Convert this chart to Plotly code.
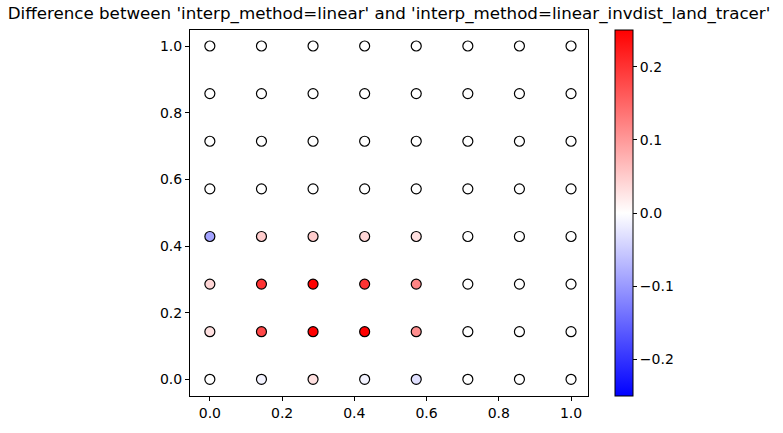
import plotly.graph_objects as go

# grid coordinates (8 x 8)
x_coords = [0, 1/7, 2/7, 3/7, 4/7, 5/7, 6/7, 1]
y_coords = [0, 1/7, 2/7, 3/7, 4/7, 5/7, 6/7, 1]

# difference values, one list per row (bottom row y=0 first)
row_y0 = [0.0, -0.012, 0.03, -0.012, -0.03, 0.0, 0.0, 0.0]
row_y1 = [0.03, 0.18, 0.25, 0.25, 0.11, 0.0, 0.0, 0.0]
row_y2 = [0.04, 0.20, 0.25, 0.20, 0.12, 0.0, 0.0, 0.0]
row_y3 = [-0.09, 0.05, 0.05, 0.04, 0.03, 0.0, 0.0, 0.0]
row_y4 = [0.0] * 8
row_y5 = [0.0] * 8
row_y6 = [0.0] * 8
row_y7 = [0.0] * 8
rows = [row_y0, row_y1, row_y2, row_y3, row_y4, row_y5, row_y6, row_y7]

cbar_ticks = [-0.2, -0.1, 0.0, 0.1, 0.2]
cbar_labels = ["\u22120.2", "\u22120.1", "0.0", "0.1", "0.2"]
axis_ticks = [0.0, 0.2, 0.4, 0.6, 0.8, 1.0]
axis_labels = ["0.0", "0.2", "0.4", "0.6", "0.8", "1.0"]

xs, ys, zs = [], [], []
for j, yv in enumerate(y_coords):
    for i, xv in enumerate(x_coords):
        xs.append(xv)
        ys.append(yv)
        zs.append(rows[j][i])

font = "DejaVu Sans"
fig = go.Figure(go.Scatter(
    x=xs, y=ys, mode="markers",
    marker=dict(
        size=10, color=zs, cmin=-0.25, cmax=0.25,
        colorscale=[[0, "rgb(0,0,255)"], [0.5, "rgb(255,255,255)"], [1, "rgb(255,0,0)"]],
        line=dict(color="black", width=1.2),
        showscale=True,
        colorbar=dict(
            x=1.068, xanchor="left", xref="paper", y=0.5, yanchor="middle",
            len=1, lenmode="fraction", thickness=18, thicknessmode="pixels",
            outlinecolor="black", outlinewidth=1,
            tickvals=cbar_ticks, ticktext=cbar_labels,
            ticks="outside", ticklen=4, tickcolor="black",
            tickfont=dict(family=font, size=14, color="black"),
            xpad=0, ypad=0,
        ),
    ),
    showlegend=False,
))

fig.update_layout(
    width=783, height=433,
    margin=dict(l=190, r=195, t=30, b=35),
    paper_bgcolor="white", plot_bgcolor="white",
    title=dict(
        text="Difference between 'interp_method=linear' and 'interp_method=linear_invdist_land_tracer'",
        x=0.5, xanchor="center", xref="paper", yref="container", y=1 - 13/433, yanchor="middle",
        font=dict(family=font, size=16.7, color="black"),
    ),
    font=dict(family=font, size=14, color="black"),
)
axis_common = dict(
    showgrid=False, zeroline=False, showline=True, linecolor="black", linewidth=1,
    mirror=True, ticks="outside", ticklen=4, tickcolor="black",
    tickvals=axis_ticks, ticktext=axis_labels,
    tickfont=dict(family=font, size=14, color="black"),
)
fig.update_xaxes(range=[-0.055, 1.047], **axis_common)
fig.update_yaxes(range=[-0.05, 1.048], **axis_common)

fig.write_html("out.html")
